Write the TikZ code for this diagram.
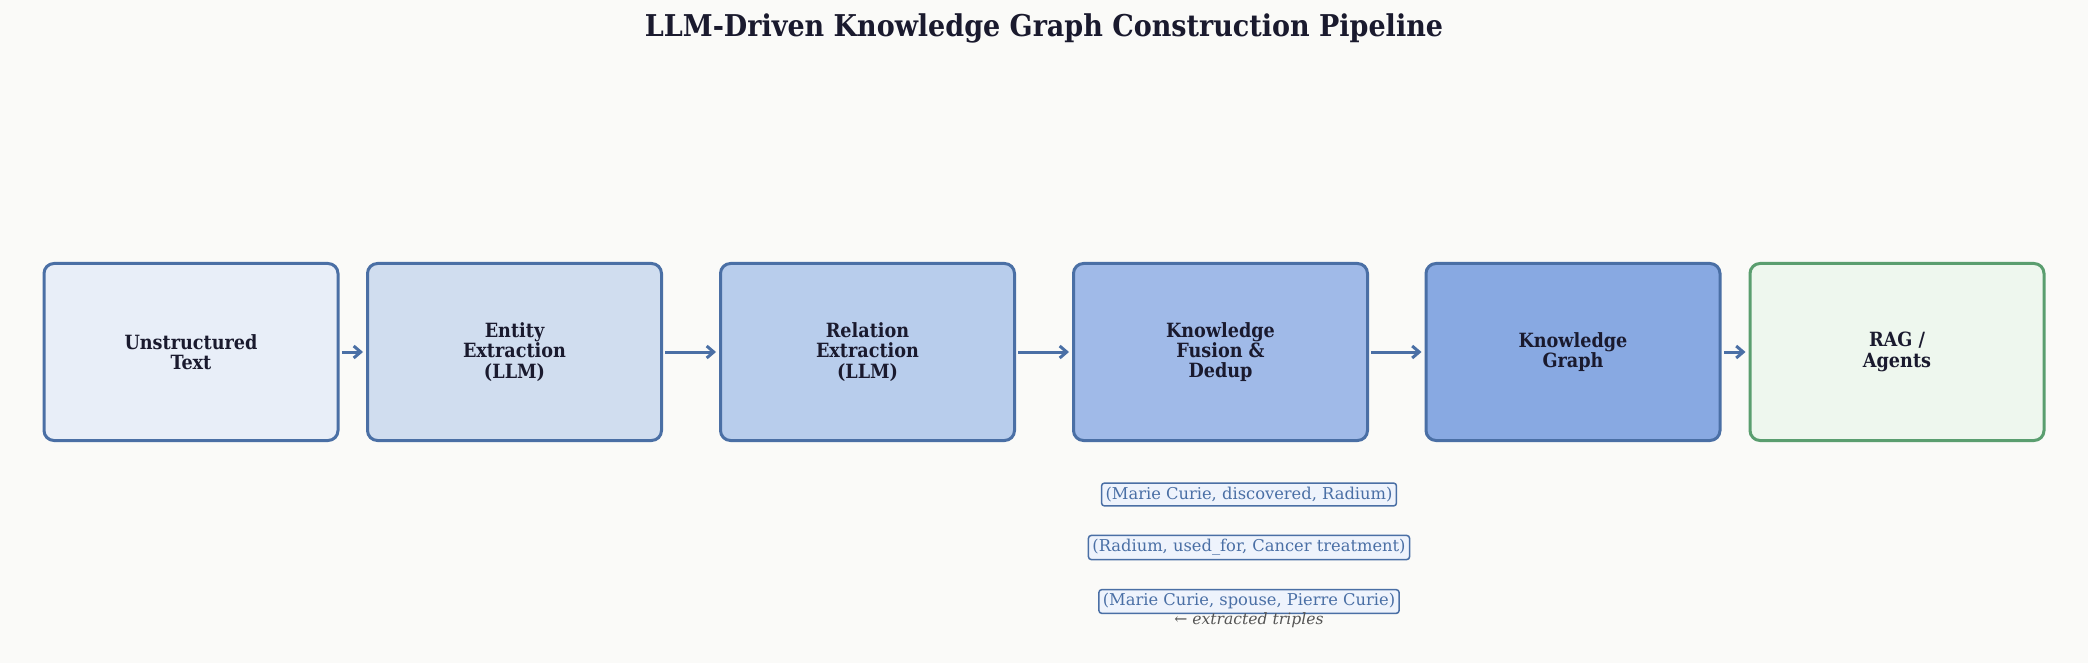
\documentclass[tikz,border=0pt]{standalone}
\usepackage{fontspec}
\setmainfont{DejaVu Serif}
\newfontfamily\condfont{DejaVu Serif Condensed}
\usetikzlibrary{arrows.meta}

\definecolor{bgcol}{HTML}{FAFAF8}
\definecolor{ink}{HTML}{1A1A2E}
\definecolor{edgeblue}{HTML}{4A6FA5}
\definecolor{edgegreen}{HTML}{5A9E6F}
\definecolor{fillA}{HTML}{E8EEF8}
\definecolor{fillB}{HTML}{D0DDEF}
\definecolor{fillC}{HTML}{B8CDEC}
\definecolor{fillD}{HTML}{A0BAE8}
\definecolor{fillE}{HTML}{88A9E2}
\definecolor{fillF}{HTML}{EEF7EE}
\definecolor{triplefill}{HTML}{EEF3FC}
\definecolor{notegray}{HTML}{555555}

\begin{document}
\begin{tikzpicture}[x=0.5pt,y=-0.5pt,
    stage/.style={draw=edgeblue, line width=1.5pt, rounded corners=5pt,
        minimum width=147pt, minimum height=88.5pt, align=center,
        text=ink, font=\condfont\bfseries\fontsize{9.8}{10.2}\selectfont},
    flow/.style={-{Straight Barb[length=3.5pt,width=6pt,line width=1.5pt]},
        draw=edgeblue, line width=1.5pt, shorten <=1.2pt, shorten >=1.5pt},
    triple/.style={draw=edgeblue, fill=triplefill, line width=0.75pt,
        rounded corners=1.5pt, inner sep=2pt, text=edgeblue,
        font=\fontsize{8.15}{9.5}\selectfont}]

    % Fundo
    \fill[bgcol] (0,0) rectangle (2088,663);
    \useasboundingbox (0,0) rectangle (2088,663);

    % Titulo
    \node[text=ink, font=\condfont\bfseries\fontsize{15}{18}\selectfont]
        (title) at (1044,28.5) {LLM-Driven Knowledge Graph Construction Pipeline};

    % Etapas
    \node[stage, fill=fillA] (text) at (191,352) {Unstructured\\Text};
    \node[stage, fill=fillB] (entity) at (514.5,352) {Entity\\Extraction\\(LLM)};
    \node[stage, fill=fillC] (relation) at (867.5,352) {Relation\\Extraction\\(LLM)};
    \node[stage, fill=fillD] (fusion) at (1220.5,352) {Knowledge\\Fusion \&\\Dedup};
    \node[stage, fill=fillE] (kg) at (1573,352) {Knowledge\\Graph};
    \node[stage, fill=fillF, draw=edgegreen] (rag) at (1897,352) {RAG /\\Agents};

    % Setas
    \draw[flow] (text) -- (entity);
    \draw[flow] (entity) -- (relation);
    \draw[flow] (relation) -- (fusion);
    \draw[flow] (fusion) -- (kg);
    \draw[flow] (kg) -- (rag);

    % Triplas extraidas
    \node[triple] (t1) at (1249,494.5) {(Marie Curie, discovered, Radium)};
    \node[triple] (t2) at (1249,547.5) {(Radium, used\_for, Cancer treatment)};
    \node[triple] (t3) at (1249,601.5) {(Marie Curie, spouse, Pierre Curie)};
    \node[text=notegray, font=\itshape\fontsize{7.8}{9}\selectfont]
        (note) at (1249,620) {← extracted triples};
\end{tikzpicture}
\end{document}
